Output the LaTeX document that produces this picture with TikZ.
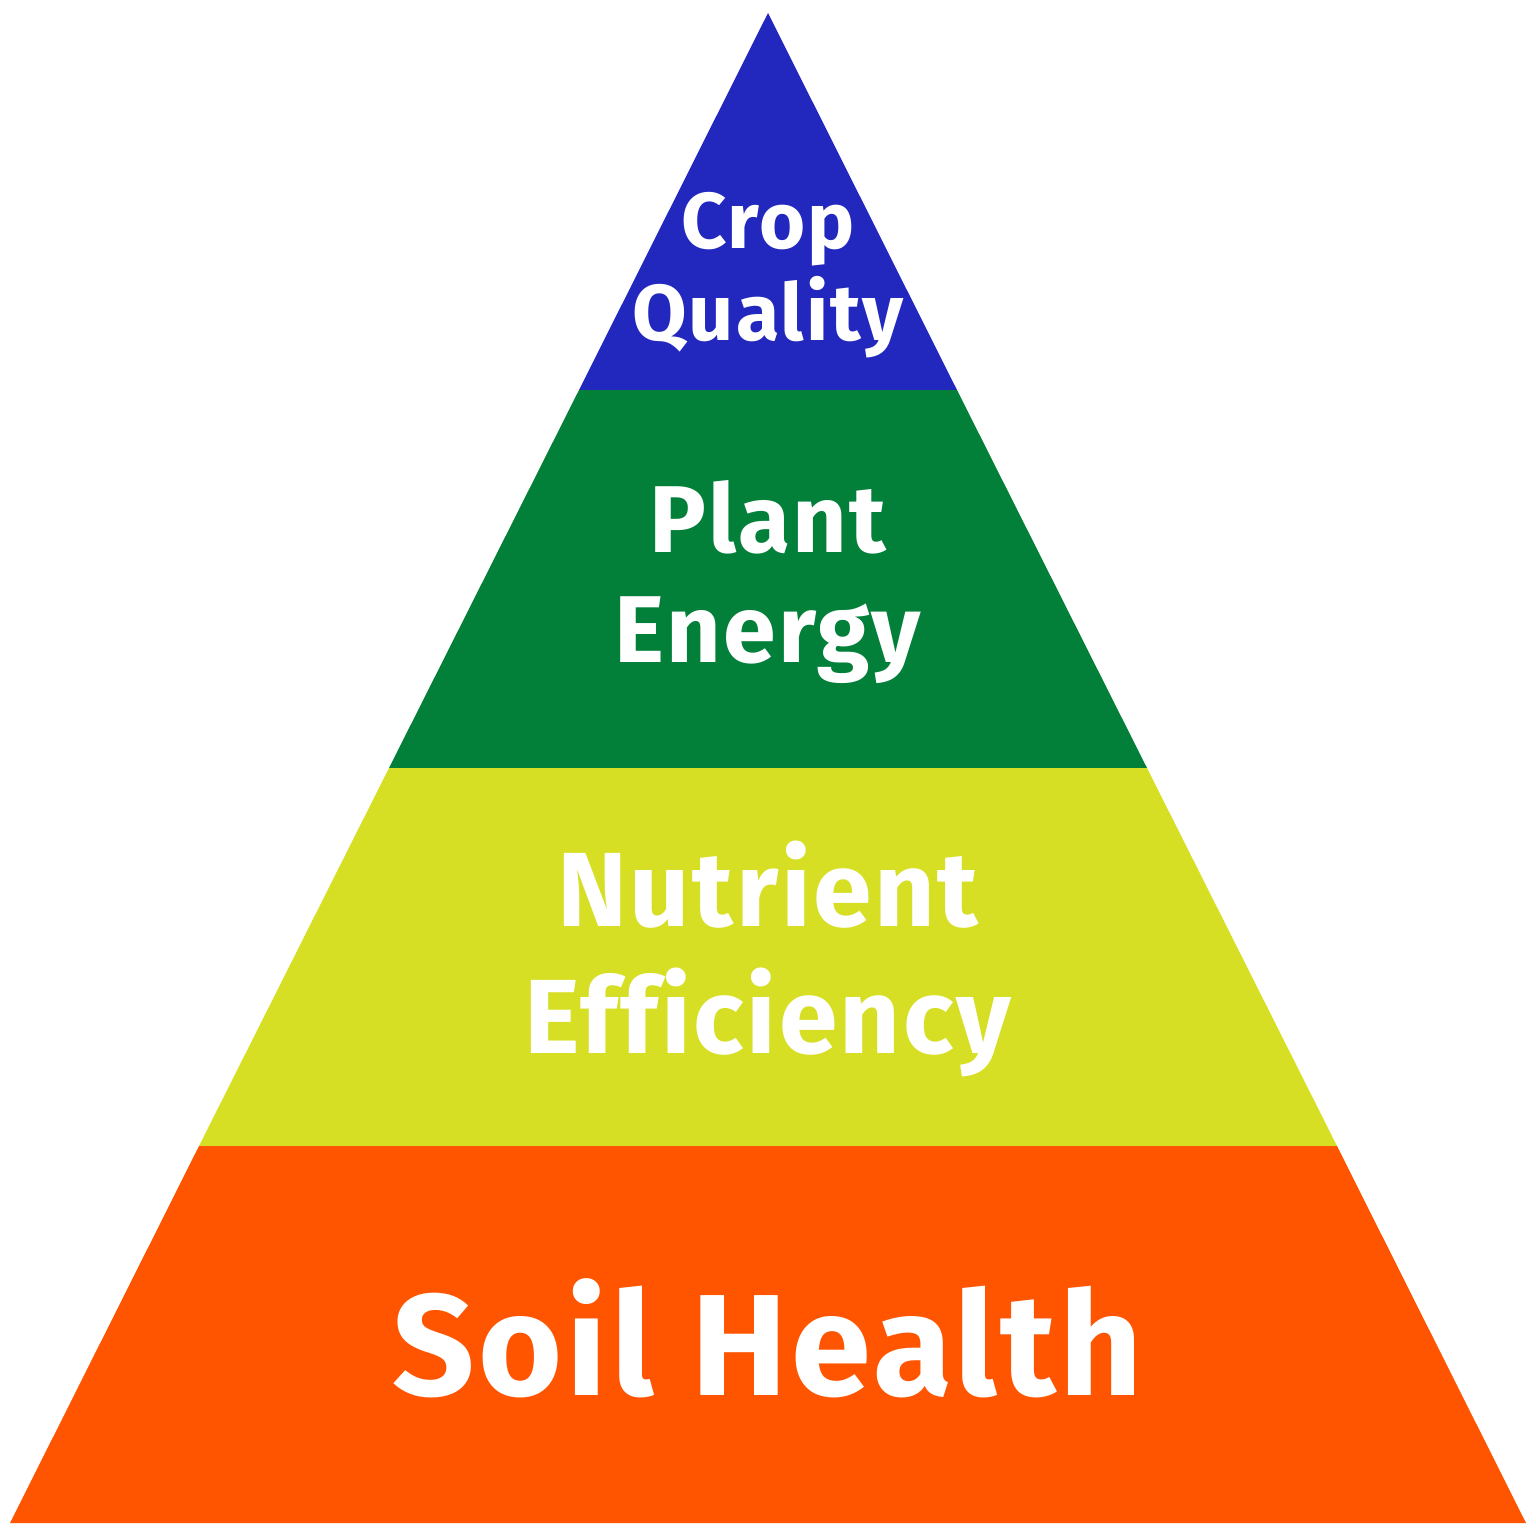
\documentclass[tikz,border=0pt]{standalone}
\usepackage{fontspec}
\setmainfont[Ligatures=NoCommon, LetterSpace=2.5]{Fira Sans}
\usepackage{xcolor}
\usetikzlibrary{positioning, calc}
\definecolor{qualityblue}{HTML}{2228BE}
\definecolor{energygreen}{HTML}{02803A}
\definecolor{nutrientlime}{HTML}{D6DF24}
\definecolor{soilorange}{HTML}{FF5500}

\begin{document}
\begin{tikzpicture}[
    x=0.01cm, y=-0.01cm,
    band/.style={draw=none},
    label/.style={text=white, align=center, font=\bfseries, inner sep=0pt}
]
    \useasboundingbox (0,0) rectangle (1536,1536);

    % Pyramid corners
    \coordinate (apex) at (768,13);
    \coordinate (baseL) at (10,1523);
    \coordinate (baseR) at (1526,1523);

    % Band edges
    \coordinate (l1) at (579,390);  \coordinate (r1) at (957,390);
    \coordinate (l2) at (389,768);  \coordinate (r2) at (1147,768);
    \coordinate (l3) at (199,1146); \coordinate (r3) at (1337,1146);

    % Bands
    \fill[band, qualityblue] (apex) -- (r1) -- (l1) -- cycle;
    \fill[band, energygreen] (l1) -- (r1) -- (r2) -- (l2) -- cycle;
    \fill[band, nutrientlime] (l2) -- (r2) -- (r3) -- (l3) -- cycle;
    \fill[band, soilorange] (l3) -- (r3) -- (baseR) -- (baseL) -- cycle;

    % Labels
    \node[label, font=\bfseries\fontsize{22.5}{26.2}\selectfont] (quality) at (768,275) {Crop\\Quality};
    \node[label, font=\bfseries\fontsize{27}{31.3}\selectfont] (energy) at (768,582) {Plant\\Energy};
    \node[label, font=\bfseries\fontsize{30}{36}\selectfont] (nutrient) at (768,959) {Nutrient\\Efficiency};
    \node[label, font=\bfseries\fontsize{41}{45}\selectfont] (soil) at (768,1338) {Soil Health};
\end{tikzpicture}
\end{document}
